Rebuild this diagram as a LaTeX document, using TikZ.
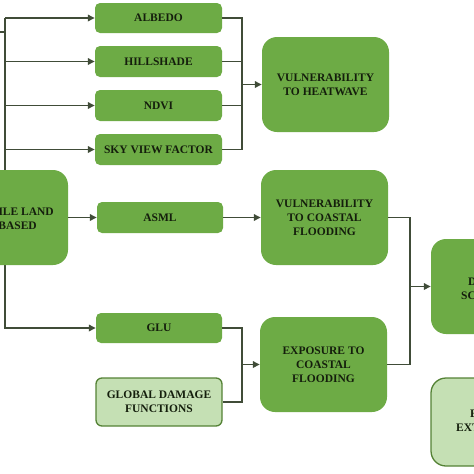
\documentclass[tikz,border=0pt]{standalone}
\usepackage{fontspec}
\setmainfont{Liberation Serif}
\usetikzlibrary{arrows.meta}
\definecolor{midgreen}{HTML}{6DAB45}
\definecolor{lightgreen}{HTML}{C5E0B4}
\definecolor{bordergreen}{HTML}{548235}
\definecolor{linecol}{HTML}{404C38}
\definecolor{txtcol}{HTML}{141E0C}
\tikzset{
  base/.style={inner sep=0pt, align=center, text=txtcol, font=\bfseries\fontsize{11.5}{14}\selectfont},
  smallbox/.style={base, fill=midgreen, rounded corners=5pt, minimum width=127pt, minimum height=30pt},
  bigbox/.style={base, fill=midgreen, rounded corners=15pt, minimum width=127pt, minimum height=95pt},
  lightsmall/.style={base, fill=lightgreen, draw=bordergreen, line width=1.3pt, rounded corners=6pt, minimum width=126pt, minimum height=48pt},
  lightbig/.style={base, fill=lightgreen, draw=bordergreen, line width=1.3pt, rounded corners=15pt, minimum width=127pt, minimum height=88pt},
  frag/.style={base, inner sep=0pt},
  conn/.style={draw=linecol, line width=1.6pt},
  arr/.style={conn, -{Triangle[length=7pt,width=6.5pt]}}
}
\begin{document}
\begin{tikzpicture}[x=1pt,y=-1pt]
\useasboundingbox (0,0) rectangle (474,474);
\clip (0,0) rectangle (474,474);
\coordinate (spine) at (5,0);
\coordinate (rb) at (242,0);
\coordinate (rc) at (410,0);
\coordinate (in) at (0,32);
% nodes
\node[smallbox] (albedo) at (158.5,18) {ALBEDO};
\node[smallbox, minimum height=31pt] (hill) at (158.5,61.5) {HILLSHADE};
\node[smallbox, minimum height=31pt] (ndvi) at (158.5,105.5) {NDVI};
\node[smallbox, minimum height=31pt] (sky) at (158.5,149.5) {SKY VIEW FACTOR};
\node[smallbox, minimum width=126pt, minimum height=31pt] (asml) at (160,217.5) {ASML};
\node[smallbox, minimum width=126pt] (glu) at (159,328) {GLU};
\node[lightsmall] (gdf) at (159,402) {GLOBAL DAMAGE\\FUNCTIONS};
\node[bigbox] (heat) at (325.5,84.5) {VULNERABILITY\\TO HEATWAVE};
\node[bigbox] (vcf) at (324.5,217.5) {VULNERABILITY\\TO COASTAL\\FLOODING};
\node[bigbox] (expo) at (323.5,364.5) {EXPOSURE TO\\COASTAL\\FLOODING};
% connectors drawn before partially visible boxes
\draw[conn] (in) -- (spine |- in);
\draw[arr] (spine |- albedo.west) |- (glu.west);
\draw[arr] (spine |- albedo.west) -- (albedo.west);
\draw[arr] (spine |- hill.west) -- (hill.west);
\draw[arr] (spine |- ndvi.west) -- (ndvi.west);
\draw[arr] (spine |- sky.west) -- (sky.west);
\node[bigbox] (land) at (4.5,217.5) {};
\node[frag, anchor=base east] (landa) at (54,215) {ILE LAND};
\node[frag, anchor=base east] (landb) at (37,229) {BASED};
\node[bigbox] (ds) at (494.5,286.5) {};
\node[frag, anchor=base west] (dsa) at (468,285) {D};
\node[frag, anchor=base west] (dsb) at (461,299) {SC};
\node[lightbig] (ee) at (494.5,422) {};
\node[frag, anchor=base west] (eea) at (470,417) {E};
\node[frag, anchor=base west] (eeb) at (456,431) {EXT};
\draw[arr] (land.east) -- (asml.west);
\draw[conn] (albedo.east) -- (albedo.east -| rb) -- (rb |- sky.east) -- (sky.east);
\draw[conn] (hill.east) -- (hill.east -| rb);
\draw[conn] (ndvi.east) -- (ndvi.east -| rb);
\draw[arr] (rb |- heat.west) -- (heat.west);
\draw[arr] (asml.east) -- (vcf.west);
\draw[conn] (glu.east) -- (glu.east -| rb) -- (rb |- gdf.east) -- (gdf.east);
\draw[arr] (rb |- expo.west) -- (expo.west);
\draw[conn] (vcf.east) -- (vcf.east -| rc) -- (rc |- expo.east) -- (expo.east);
\draw[arr] (rc |- ds.west) -- (ds.west);
\end{tikzpicture}
\end{document}
